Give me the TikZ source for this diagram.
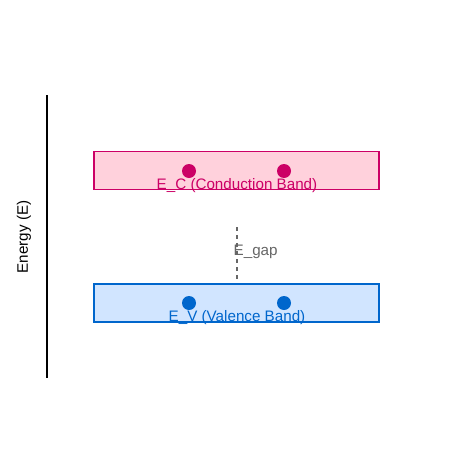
\documentclass[tikz,border=0pt]{standalone}
\usepackage{fontspec}
\setmainfont{Liberation Sans}
\usetikzlibrary{positioning, arrows.meta}
\definecolor{condline}{HTML}{CC0066}
\definecolor{condfill}{HTML}{FFD1DC}
\definecolor{valline}{HTML}{0066CC}
\definecolor{valfill}{HTML}{D1E5FF}
\definecolor{gaptext}{HTML}{666666}

\begin{document}
\begin{tikzpicture}[
    x=1pt, y=-1pt,
    band/.style={rectangle, draw, line width=1.5pt, minimum width=285pt, minimum height=38pt, inner sep=0pt, anchor=center},
    electron/.style={circle, fill, minimum size=14pt, inner sep=0pt},
    lbl/.style={font=\fontsize{15.2}{18}\selectfont, inner sep=0pt, anchor=center}
]
\useasboundingbox (0,0) rectangle (474,474);

% energy axis
\coordinate (axtop) at (47,95);
\coordinate (axbot) at (47,378);
\draw[line width=1.6pt] (axtop) -- (axbot);
\node[lbl, rotate=90] (axlabel) at (24,237) {Energy (E)};

% conduction band
\node[band, draw=condline, fill=condfill] (cband) at (236.5,170.5) {};
\foreach \xx [count=\i] in {189,284} {
    \node[electron, fill=condline] (ce\i) at (\xx,171) {};
}
\node[lbl, text=condline] (clabel) at (237,185.5) {E\_C (Conduction Band)};

% valence band
\node[band, draw=valline, fill=valfill] (vband) at (236.5,303) {};
\foreach \xx [count=\i] in {189,284} {
    \node[electron, fill=valline] (ve\i) at (\xx,303) {};
}
\node[lbl, text=valline] (vlabel) at (237,318) {E\_V (Valence Band)};

% band gap
\coordinate (gaptop) at (237,227);
\coordinate (gapbot) at (237,279);
\draw[gaptext, line width=1.5pt, dash pattern=on 4pt off 4pt] (gaptop) -- (gapbot);
\node[lbl, text=gaptext, anchor=west] (gaplabel) at (233.5,252) {E\_gap};

\end{tikzpicture}
\end{document}
